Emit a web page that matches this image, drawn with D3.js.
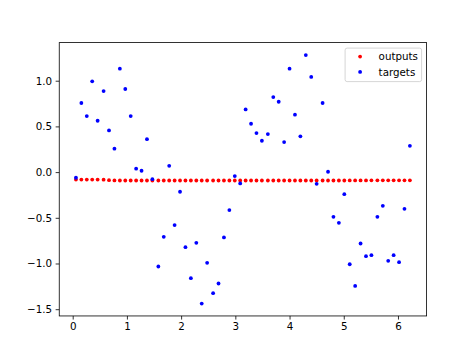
<!DOCTYPE html>
<html>
<head>
<meta charset="utf-8">
<script src="https://cdn.jsdelivr.net/npm/d3@7"></script>
<style>
  body { margin: 0; background: #fff; }
  svg { display: block; font-family: "DejaVu Sans", sans-serif; }
  .tick text { font-size: 10.3px; fill: #000; }
</style>
</head>
<body>
<div id="chart"></div>
<script>
var xValues = [0.06, 0.16, 0.26, 0.36, 0.46, 0.57, 0.67, 0.77, 0.87, 0.97,
               1.07, 1.17, 1.27, 1.37, 1.47, 1.58, 1.68, 1.78, 1.88, 1.98,
               2.08, 2.18, 2.28, 2.38, 2.48, 2.59, 2.69, 2.79, 2.89, 2.99,
               3.09, 3.19, 3.29, 3.39, 3.49, 3.60, 3.70, 3.80, 3.90, 4.00,
               4.10, 4.20, 4.30, 4.40, 4.50, 4.61, 4.71, 4.81, 4.91, 5.01,
               5.11, 5.21, 5.31, 5.41, 5.51, 5.62, 5.72, 5.82, 5.92, 6.02,
               6.12, 6.22];
var outputs = [-0.082, -0.082, -0.082, -0.082, -0.082, -0.083, -0.088, -0.091, -0.092, -0.092,
               -0.092, -0.092, -0.092, -0.092, -0.092, -0.092, -0.092, -0.092, -0.092, -0.092,
               -0.092, -0.092, -0.092, -0.092, -0.092, -0.092, -0.092, -0.092, -0.092, -0.092,
               -0.092, -0.092, -0.092, -0.092, -0.092, -0.092, -0.092, -0.092, -0.092, -0.092,
               -0.092, -0.092, -0.092, -0.092, -0.092, -0.092, -0.092, -0.092, -0.092, -0.092,
               -0.091, -0.091, -0.091, -0.091, -0.090, -0.090, -0.090, -0.090, -0.090, -0.090,
               -0.090, -0.090];
var targets = [-0.062, 0.756, 0.613, 0.993, 0.562, 0.887, 0.456, 0.256, 1.132, 0.909,
               0.613, 0.037, 0.015, 0.360, -0.077, -1.033, -0.708, 0.069, -0.580, -0.215,
               -0.821, -1.161, -0.774, -1.438, -0.993, -1.325, -1.219, -0.715, -0.416, -0.044,
               -0.124, 0.686, 0.529, 0.427, 0.343, 0.416, 0.821, 0.770, 0.329, 1.132,
               0.628, 0.391, 1.281, 1.041, -0.128, 0.756, 0.004, -0.489, -0.555, -0.241,
               -1.008, -1.245, -0.781, -0.920, -0.909, -0.489, -0.369, -0.971, -0.909, -0.986,
               -0.402, 0.288];
var xTicks = [0, 1, 2, 3, 4, 5, 6];
var yTicks = [-1.5, -1.0, -0.5, 0.0, 0.5, 1.0];
var seriesNames = ['outputs', 'targets'];
var seriesColors = ['#ff0000', '#0000ff'];

var width = 474, height = 355;
var margin = {left: 59.25, right: 47.4, top: 42.6, bottom: 39.05};
var plotW = width - margin.left - margin.right;
var plotH = height - margin.top - margin.bottom;

// matplotlib-style 5% autoscale margins
function padded(ext) {
    var d = (ext[1] - ext[0]) * 0.05;
    return [ext[0] - d, ext[1] + d];
}

var xScale = d3.scaleLinear()
    .domain(padded(d3.extent(xValues)))
    .range([0, plotW]);
var yScale = d3.scaleLinear()
    .domain(padded(d3.extent(outputs.concat(targets))))
    .range([plotH, 0]);

var svg = d3.select('#chart').append('svg')
    .attr('width', width)
    .attr('height', height);

var g = svg.append('g')
    .attr('transform', 'translate(' + margin.left + ',' + margin.top + ')');

// points: outputs first, targets drawn on top
[outputs, targets].forEach(function (series, k) {
    g.append('g').selectAll('circle')
        .data(series)
        .enter().append('circle')
        .attr('cx', function (d, i) { return xScale(xValues[i]); })
        .attr('cy', function (d) { return yScale(d); })
        .attr('r', 1.9)
        .attr('fill', seriesColors[k]);
});

var xAxis = g.append('g')
    .attr('transform', 'translate(0,' + plotH + ')')
    .call(d3.axisBottom(xScale).tickValues(xTicks).tickFormat(d3.format('d'))
        .tickSizeInner(3.6).tickSizeOuter(0).tickPadding(3.6));
var yAxis = g.append('g')
    .call(d3.axisLeft(yScale).tickValues(yTicks).tickFormat(d3.format('.1f'))
        .tickSizeInner(3.6).tickSizeOuter(0).tickPadding(3.6));
[xAxis, yAxis].forEach(function (ax) {
    ax.select('.domain').remove();
    ax.selectAll('.tick line').attr('stroke', '#000').attr('stroke-width', 0.8);
    ax.attr('font-family', null).attr('font-size', null);
});

// frame
g.append('rect')
    .attr('width', plotW)
    .attr('height', plotH)
    .attr('fill', 'none')
    .attr('stroke', '#000')
    .attr('stroke-width', 0.8);

// legend
var legend = g.append('g')
    .attr('transform', 'translate(' + (plotW - 81.5) + ',5.5)');
legend.append('rect')
    .attr('width', 76.5)
    .attr('height', 33.5)
    .attr('rx', 2)
    .attr('fill', '#fff')
    .attr('fill-opacity', 0.8)
    .attr('stroke', '#ccc')
    .attr('stroke-width', 0.8);
seriesNames.forEach(function (name, k) {
    var row = legend.append('g')
        .attr('transform', 'translate(0,' + (8.5 + k * 15.3) + ')');
    row.append('circle')
        .attr('cx', 15)
        .attr('cy', 0)
        .attr('r', 1.9)
        .attr('fill', seriesColors[k]);
    row.append('text')
        .attr('x', 33.5)
        .attr('y', 0)
        .attr('dy', '0.35em')
        .attr('font-size', '10.3px')
        .text(name);
});
</script>
</body>
</html>
